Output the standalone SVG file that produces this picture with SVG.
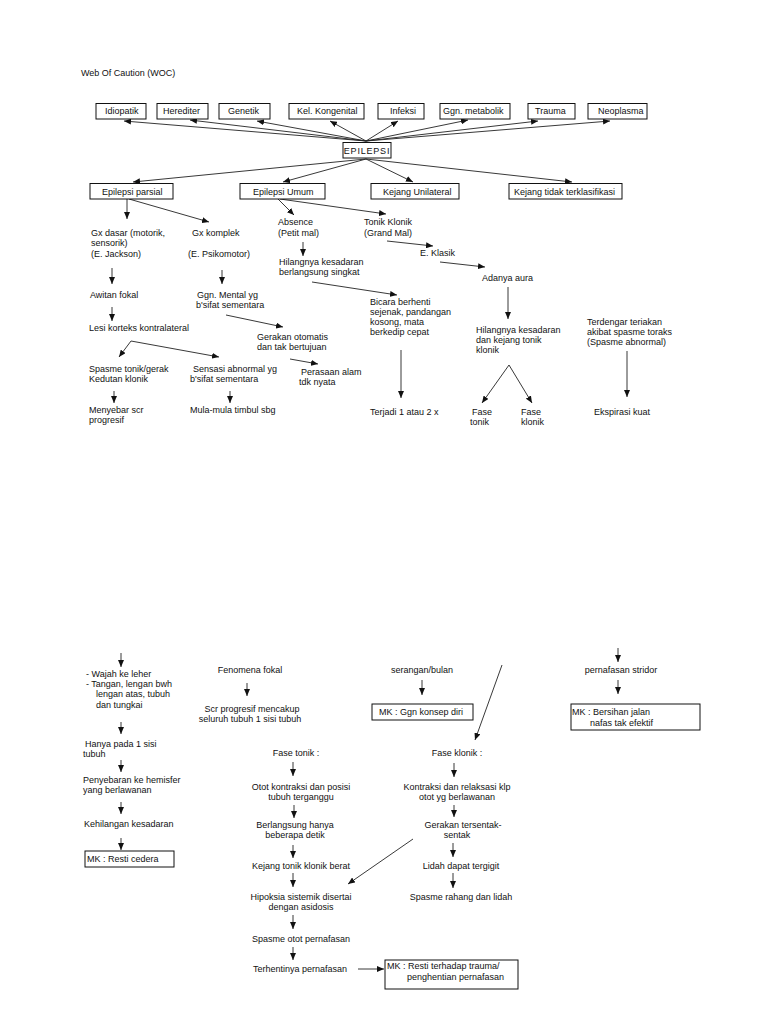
<svg xmlns="http://www.w3.org/2000/svg" width="768" height="1024" viewBox="0 0 768 1024">
<style>
text{font-family:"Liberation Sans",Arial,sans-serif;font-size:9px;fill:#111}
.m{text-anchor:middle}
rect{fill:#fff;stroke:#111;stroke-width:1}
#connectors line{stroke:#222;stroke-width:0.9;marker-end:url(#ah)}
</style>
<defs>
<marker id="ah" markerUnits="userSpaceOnUse" markerWidth="7" markerHeight="6" refX="7" refY="3" orient="auto">
<path d="M0,0 L7,3 L0,6 z" fill="#111"/>
</marker>
</defs>
<rect x="0" y="0" width="768" height="1024" style="fill:#fff;stroke:none"/>
<text x="81" y="76">Web Of Caution (WOC)</text>

<g id="connectors">
<line x1="366" y1="141" x2="124" y2="121"/>
<line x1="366" y1="141" x2="190" y2="120"/>
<line x1="366" y1="141" x2="257" y2="121"/>
<line x1="366" y1="141" x2="330" y2="121"/>
<line x1="366" y1="141" x2="398" y2="121"/>
<line x1="366" y1="141" x2="468" y2="120"/>
<line x1="366" y1="141" x2="538" y2="121"/>
<line x1="366" y1="141" x2="610" y2="121"/>
<line x1="366" y1="159" x2="133" y2="182"/>
<line x1="366" y1="159" x2="283" y2="182"/>
<line x1="366" y1="159" x2="413" y2="182"/>
<line x1="366" y1="159" x2="572" y2="182"/>
<line x1="127" y1="199" x2="127" y2="219"/>
<line x1="129" y1="199" x2="209" y2="222"/>
<line x1="112" y1="268" x2="112" y2="284"/>
<line x1="112" y1="307" x2="112" y2="321"/>
<line x1="222" y1="270" x2="222" y2="284"/>
<line x1="226" y1="315" x2="283" y2="327"/>
<line x1="131" y1="341" x2="119" y2="357"/>
<line x1="131" y1="341" x2="219" y2="357"/>
<line x1="290" y1="359" x2="318" y2="364"/>
<line x1="114" y1="391" x2="114" y2="403"/>
<line x1="230" y1="391" x2="230" y2="403"/>
<line x1="278" y1="199" x2="294" y2="215"/>
<line x1="280" y1="199" x2="386" y2="214"/>
<line x1="303" y1="242" x2="303" y2="256"/>
<line x1="387" y1="241" x2="433" y2="246"/>
<line x1="440" y1="262" x2="485" y2="267"/>
<line x1="312" y1="282" x2="397" y2="295"/>
<line x1="401" y1="350" x2="401" y2="398"/>
<line x1="508" y1="287" x2="508" y2="319"/>
<line x1="509" y1="365" x2="482" y2="403"/>
<line x1="509" y1="365" x2="532" y2="403"/>
<line x1="627" y1="351" x2="627" y2="397"/>
<line x1="121" y1="653" x2="121" y2="667"/>
<line x1="121" y1="722" x2="121" y2="734"/>
<line x1="121" y1="760" x2="121" y2="772"/>
<line x1="121" y1="802" x2="121" y2="814"/>
<line x1="121" y1="838" x2="121" y2="850"/>
<line x1="247" y1="683" x2="247" y2="696"/>
<line x1="293" y1="762" x2="293" y2="776"/>
<line x1="294" y1="805" x2="294" y2="818"/>
<line x1="293" y1="845" x2="293" y2="858"/>
<line x1="293" y1="873" x2="293" y2="887"/>
<line x1="293" y1="915" x2="293" y2="929"/>
<line x1="293" y1="947" x2="293" y2="960"/>
<line x1="358" y1="969" x2="384" y2="969"/>
<line x1="422" y1="680" x2="422" y2="695"/>
<line x1="502" y1="665" x2="475" y2="740"/>
<line x1="454" y1="763" x2="454" y2="777"/>
<line x1="454" y1="805" x2="454" y2="817"/>
<line x1="453" y1="843" x2="453" y2="857"/>
<line x1="453" y1="873" x2="453" y2="888"/>
<line x1="413" y1="839" x2="348" y2="884"/>
<line x1="618" y1="648" x2="618" y2="662"/>
<line x1="618" y1="680" x2="618" y2="694"/>
</g>

<g id="n-idiopatik"><rect x="96" y="103.5" width="50" height="15.5"/><text x="105" y="114">Idiopatik</text></g>
<g id="n-herediter"><rect x="157" y="103.5" width="51" height="15.5"/><text x="163" y="114">Herediter</text></g>
<g id="n-genetik"><rect x="219" y="103.5" width="51" height="15.5"/><text x="228" y="114">Genetik</text></g>
<g id="n-kongenital"><rect x="289" y="103.5" width="75" height="15.5"/><text x="297" y="114">Kel. Kongenital</text></g>
<g id="n-infeksi"><rect x="378" y="103.5" width="46" height="15.5"/><text x="390" y="114">Infeksi</text></g>
<g id="n-metabolik"><rect x="440" y="103.5" width="70" height="15.5"/><text x="443" y="114">Ggn. metabolik</text></g>
<g id="n-trauma"><rect x="528" y="103.5" width="47" height="15.5"/><text x="535" y="114">Trauma</text></g>
<g id="n-neoplasma"><rect x="588" y="103.5" width="59" height="15.5"/><text x="598" y="114">Neoplasma</text></g>

<g id="n-epilepsi"><rect x="343" y="142.5" width="48" height="15.5"/><text x="367" y="154" class="m" style="letter-spacing:0.8px">EPILEPSI</text></g>

<g id="n-parsial"><rect x="90" y="183.5" width="83" height="15.5"/><text x="102" y="195">Epilepsi parsial</text></g>
<g id="n-umum"><rect x="240" y="183.5" width="85" height="15.5"/><text x="253" y="195">Epilepsi Umum</text></g>
<g id="n-unilateral"><rect x="371" y="183.5" width="88" height="15.5"/><text x="383" y="195">Kejang Unilateral</text></g>
<g id="n-tidak"><rect x="509" y="183.5" width="113" height="15.5"/><text x="514" y="195">Kejang tidak terklasifikasi</text></g>

<g id="n-gxdasar"><text x="91" y="236">Gx dasar (motorik,</text><text x="91" y="246">sensorik)</text><text x="91" y="257">(E. Jackson)</text></g>
<g id="n-gxkomplek"><text x="192" y="236">Gx komplek</text><text x="188" y="257">(E. Psikomotor)</text></g>
<g id="n-awitan"><text x="90" y="298">Awitan fokal</text></g>
<g id="n-lesi"><text x="89" y="331">Lesi korteks kontralateral</text></g>
<g id="n-ggnmental"><text x="197" y="298">Ggn. Mental yg</text><text x="196" y="308">b'sifat sementara</text></g>
<g id="n-gerakan"><text x="257" y="340">Gerakan otomatis</text><text x="257" y="350">dan tak bertujuan</text></g>
<g id="n-perasaan"><text x="301" y="375">Perasaan alam</text><text x="299" y="385">tdk nyata</text></g>
<g id="n-spasmetonik"><text x="89" y="372">Spasme tonik/gerak</text><text x="89" y="382">Kedutan klonik</text></g>
<g id="n-sensasi"><text x="193" y="372">Sensasi abnormal yg</text><text x="190" y="382">b'sifat sementara</text></g>
<g id="n-menyebar"><text x="89" y="413">Menyebar scr</text><text x="89" y="423">progresif</text></g>
<g id="n-mulamula"><text x="190" y="413">Mula-mula timbul sbg</text></g>

<g id="n-absence"><text x="278" y="225">Absence</text><text x="278" y="236">(Petit mal)</text></g>
<g id="n-tonikklonik"><text x="364" y="225">Tonik Klonik</text><text x="364" y="236">(Grand Mal)</text></g>
<g id="n-hilang1"><text x="279" y="265">Hilangnya kesadaran</text><text x="279" y="275">berlangsung singkat</text></g>
<g id="n-eklasik"><text x="420" y="256">E. Klasik</text></g>
<g id="n-aura"><text x="482" y="281">Adanya aura</text></g>
<g id="n-bicara"><text x="370" y="305">Bicara berhenti</text><text x="370" y="315">sejenak, pandangan</text><text x="370" y="325">kosong, mata</text><text x="370" y="335">berkedip cepat</text></g>
<g id="n-terjadi"><text x="370" y="415">Terjadi 1 atau 2 x</text></g>
<g id="n-hilang2"><text x="476" y="333">Hilangnya kesadaran</text><text x="476" y="343">dan kejang tonik</text><text x="476" y="353">klonik</text></g>
<g id="n-fasetonik1"><text x="472" y="415">Fase</text><text x="470" y="425">tonik</text></g>
<g id="n-faseklonik1"><text x="521" y="415">Fase</text><text x="521" y="425">klonik</text></g>
<g id="n-terdengar"><text x="587" y="325">Terdengar teriakan</text><text x="587" y="335">akibat spasme toraks</text><text x="587" y="345">(Spasme abnormal)</text></g>
<g id="n-ekspirasi"><text x="594" y="415">Ekspirasi kuat</text></g>

<g id="n-wajah"><text x="86" y="677">- Wajah ke leher</text><text x="86" y="687">- Tangan, lengan bwh</text><text x="96" y="697">lengan atas, tubuh</text><text x="96" y="708">dan tungkai</text></g>
<g id="n-hanya"><text x="85" y="747">Hanya pada 1 sisi</text><text x="83" y="757">tubuh</text></g>
<g id="n-penyebaran"><text x="83" y="783">Penyebaran ke hemisfer</text><text x="83" y="793">yang berlawanan</text></g>
<g id="n-kehilangan"><text x="84" y="827">Kehilangan kesadaran</text></g>
<g id="n-resticedera"><rect x="85" y="851" width="89" height="16"/><text x="87" y="862">MK : Resti cedera</text></g>

<g id="n-fenomena"><text x="250" y="673" class="m">Fenomena fokal</text></g>
<g id="n-scr"><text x="252" y="712" class="m">Scr progresif mencakup</text><text x="250" y="722" class="m">seluruh tubuh 1 sisi tubuh</text></g>
<g id="n-fasetonik2"><text x="296" y="756" class="m">Fase tonik :</text></g>
<g id="n-otot"><text x="301" y="790" class="m">Otot kontraksi dan posisi</text><text x="301" y="800" class="m">tubuh terganggu</text></g>
<g id="n-berlangsung"><text x="295" y="828" class="m">Berlangsung hanya</text><text x="295" y="838" class="m">beberapa detik</text></g>
<g id="n-kejangberat"><text x="301" y="869" class="m">Kejang tonik klonik berat</text></g>
<g id="n-hipoksia"><text x="301" y="900" class="m">Hipoksia sistemik disertai</text><text x="301" y="910" class="m">dengan asidosis</text></g>
<g id="n-spasmeotot"><text x="301" y="942" class="m">Spasme otot pernafasan</text></g>
<g id="n-terhenti"><text x="300" y="972" class="m">Terhentinya pernafasan</text></g>
<g id="n-restitrauma"><rect x="385" y="960" width="133" height="29"/><text x="387" y="969">MK : Resti terhadap trauma/</text><text x="407" y="980">penghentian pernafasan</text></g>

<g id="n-serangan"><text x="422" y="673" class="m">serangan/bulan</text></g>
<g id="n-konsep"><rect x="372" y="704" width="101" height="16"/><text x="379" y="715">MK : Ggn konsep diri</text></g>
<g id="n-faseklonik2"><text x="457" y="756" class="m">Fase klonik :</text></g>
<g id="n-kontraksi"><text x="457" y="790" class="m">Kontraksi dan relaksasi klp</text><text x="457" y="800" class="m">otot yg berlawanan</text></g>
<g id="n-tersentak"><text x="463" y="828" class="m">Gerakan tersentak-</text><text x="457" y="838" class="m">sentak</text></g>
<g id="n-lidah"><text x="461" y="869" class="m">Lidah dapat tergigit</text></g>
<g id="n-rahang"><text x="461" y="900" class="m">Spasme rahang dan lidah</text></g>

<g id="n-stridor"><text x="621" y="673" class="m">pernafasan stridor</text></g>
<g id="n-bersihan"><rect x="571" y="704" width="129" height="26"/><text x="572" y="715">MK : Bersihan jalan</text><text x="590" y="726">nafas tak efektif</text></g>
</svg>
